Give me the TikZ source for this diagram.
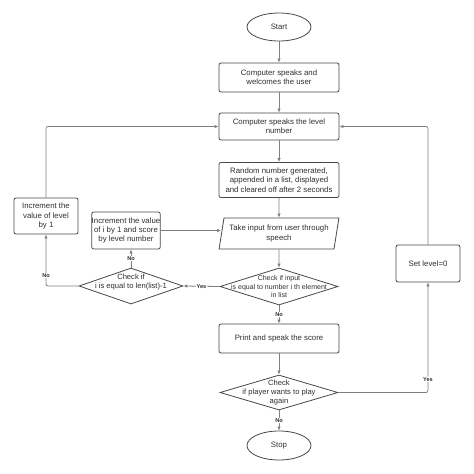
\documentclass[tikz,border=0pt]{standalone}
\usepackage{fontspec}
\setmainfont{Liberation Sans}
\usetikzlibrary{shapes.geometric,arrows.meta}

\definecolor{boxgray}{gray}{0.28}
\definecolor{linegray}{gray}{0.5}
\definecolor{txtgray}{gray}{0.18}

\tikzset{
  base/.style={draw=boxgray, line width=0.8pt, text=txtgray, align=center, font=\fontsize{7.8}{9.3}\selectfont},
  terminal/.style={base, ellipse, minimum width=64pt, minimum height=28pt, inner sep=0pt},
  process/.style={base, rectangle, rounded corners=2pt, inner sep=0pt},
  inout/.style={base, trapezium, trapezium left angle=75, trapezium right angle=105, trapezium stretches=true, inner sep=0pt},
  decision/.style={base, diamond, inner sep=0pt},
  dtext/.style={text=txtgray, align=center, inner sep=0pt, font=\fontsize{7.6}{8.8}\selectfont},
  flow/.style={draw=linegray, line width=0.8pt, rounded corners=2pt, -{Latex[length=4pt,width=3.5pt]}},
  ans/.style={fill=white, text=txtgray, inner sep=0.6pt, font=\bfseries\fontsize{5.6}{6}\selectfont}
}

\begin{document}
\begin{tikzpicture}[x=1pt, y=-1pt]
  \useasboundingbox (0,0) rectangle (474,474);
  % main column
  \node[terminal] (start)at(279, 27) {Start};
  \node[process, minimum width=120pt, minimum height=29pt] (welcome)at(279, 77.5) {Computer speaks and\\welcomes the user};
  \node[process, minimum width=120pt, minimum height=27pt] (level)at(279, 126.5) {Computer speaks the level\\number};
  \node[process, minimum width=120pt, minimum height=35pt] (random)at(279, 180) {Random number generated,\\appended in a list, displayed\\and cleared off after 2 seconds};
  \node[inout, minimum width=120pt, minimum height=31pt] (input)at(279, 233.5) {Take input from user through\\speech};
  \node[decision, minimum width=118pt, minimum height=37pt, label={[dtext, font=\fontsize{7}{8.4}\selectfont]center:Check if input\\is equal to number i th element\\in list}] (checkinput)at(279, 286.5) {};
  \node[process, minimum width=120pt, minimum height=29pt] (score)at(279, 338.5) {Print and speak the score};
  \node[decision, minimum width=118pt, minimum height=35pt, label={[dtext]center:Check\\if player wants to play\\again}] (playagain)at(279, 392.5) {};
  \node[terminal, minimum height=29pt] (stop)at(279, 445.5) {Stop};
  % side boxes
  \node[process, minimum width=64pt, minimum height=36pt] (inclevel)at(46, 216) {Increment the\\value of level\\by 1};
  \node[process, minimum width=68pt, minimum height=37pt] (inci)at(126, 230.5) {Increment the value\\of i by 1 and score\\by level number};
  \node[decision, minimum width=104pt, minimum height=36pt, label={[dtext, yshift=4pt]center:Check if\\i is equal to len(list)-1}] (checki)at(131, 286) {};
  \node[process, minimum width=64pt, minimum height=37pt] (setlevel)at(428, 263.5) {Set level=0};

  \draw[flow] (start) -- (welcome);
  \draw[flow] (welcome) -- (level);
  \draw[flow] (level) -- (random);
  \draw[flow] (random) -- (input);
  \draw[flow] (input) -- (checkinput);
  \draw[flow] (checkinput.west) -- node[ans]{Yes} (checki.east);
  \draw[flow] (checkinput.south) -- node[ans]{No} (score.north);
  \draw[flow] (score) -- (playagain);
  \draw[flow] (playagain.south) -- node[ans]{No} (stop.north);
  \draw[flow] (playagain.east) -| node[ans, pos=0.56]{Yes} (setlevel.south);
  \draw[flow] (setlevel.north) |- (level.east);
  \draw[flow] (checki.north) -- node[ans]{No} (checki.north |- inci.south);
  \draw[flow] (inci.east) -- (inci.east -| input.west);
  \draw[flow] (checki.west) -| node[ans, pos=0.6]{No} (inclevel.south);
  \draw[flow] (inclevel.north) |- (level.west);
\end{tikzpicture}
\end{document}
